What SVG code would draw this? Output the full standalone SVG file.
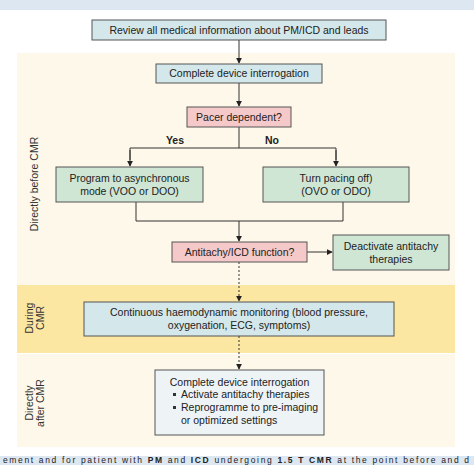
<svg xmlns="http://www.w3.org/2000/svg" width="474" height="465" viewBox="0 0 474 465">
<defs>
<style>
.t{font-family:"Liberation Sans",Arial,sans-serif;font-size:10.5px;fill:#222;text-anchor:middle}
.lab{font-family:"Liberation Sans",Arial,sans-serif;font-size:10.5px;fill:#333;text-anchor:middle}
.yn{font-family:"Liberation Sans",Arial,sans-serif;font-size:10.5px;font-weight:bold;fill:#222;text-anchor:middle}
.b{stroke:#555;stroke-width:1}
.teal{fill:#d4e7ea}
.pink{fill:#f5c9c9}
.green{fill:#cfe6d5}
.pale{fill:#eef3f6}
.ln{fill:none;stroke:#333;stroke-width:1}
.dash{fill:none;stroke:#333;stroke-width:1;stroke-dasharray:2,2}
</style>
<marker id="ah" viewBox="0 0 8 8" refX="7" refY="4" markerWidth="6" markerHeight="6" orient="auto" markerUnits="userSpaceOnUse">
<path d="M0,0 L8,4 L0,8 z" fill="#222"/>
</marker>
</defs>
<rect width="474" height="465" fill="#ffffff"/>
<rect x="0" y="0" width="474" height="10" fill="#dde7f1"/>
<g id="phase-before">
<rect x="17" y="53" width="438" height="232" fill="#fdf8e9"/>
<text class="lab" transform="translate(38,184) rotate(-90)">Directly before CMR</text>
</g>
<g id="phase-during">
<rect x="17" y="285" width="438" height="68" fill="#fbe6a2"/>
<text class="lab" transform="translate(33,318) rotate(-90)">During</text>
<text class="lab" transform="translate(44,318) rotate(-90)">CMR</text>
</g>
<g id="phase-after">
<rect x="17" y="354" width="438" height="93" fill="#fdf8e9"/>
<text class="lab" transform="translate(33,403) rotate(-90)">Directly</text>
<text class="lab" transform="translate(44,403) rotate(-90)">after CMR</text>
</g>
<g id="connectors">
<line class="ln" x1="239" y1="40" x2="239" y2="63" marker-end="url(#ah)"/>
<line class="ln" x1="239" y1="83" x2="239" y2="106" marker-end="url(#ah)"/>
<polyline class="ln" points="239,127 239,148"/>
<polyline class="ln" points="130,160 130,148 336,148 336,160"/>
<line class="ln" x1="130" y1="150" x2="130" y2="166" marker-end="url(#ah)"/>
<line class="ln" x1="336" y1="150" x2="336" y2="166" marker-end="url(#ah)"/>
<polyline class="ln" points="136,202 136,221 343,221 343,202"/>
<line class="ln" x1="239" y1="221" x2="239" y2="241" marker-end="url(#ah)"/>
<line class="ln" x1="307" y1="252" x2="332" y2="252" marker-end="url(#ah)"/>
<line class="dash" x1="239" y1="262" x2="239" y2="301" marker-end="url(#ah)"/>
<line class="dash" x1="239" y1="336" x2="239" y2="369" marker-end="url(#ah)"/>
<text class="yn" x="175" y="144">Yes</text>
<text class="yn" x="272" y="144">No</text>
</g>
<g id="review">
<rect class="teal b" x="92" y="20" width="294" height="20"/>
<text class="t" x="239" y="33.5">Review all medical information about PM/ICD and leads</text>
</g>
<g id="interrogation">
<rect class="teal b" x="156" y="64" width="166" height="19"/>
<text class="t" x="239" y="77">Complete device interrogation</text>
</g>
<g id="pacer">
<rect class="pink b" x="187" y="107" width="104" height="20"/>
<text class="t" x="239" y="120.5">Pacer dependent?</text>
</g>
<g id="async">
<rect class="green b" x="56" y="167" width="147" height="35"/>
<text class="t" x="129.5" y="182">Program to asynchronous</text>
<text class="t" x="129.5" y="195">mode (VOO or DOO)</text>
</g>
<g id="pacing-off">
<rect class="green b" x="263" y="167" width="146" height="35"/>
<text class="t" x="336" y="182">Turn pacing off)</text>
<text class="t" x="336" y="195">(OVO or ODO)</text>
</g>
<g id="antitachy">
<rect class="pink b" x="172" y="242" width="135" height="20"/>
<text class="t" x="239.5" y="255.5">Antitachy/ICD function?</text>
</g>
<g id="deactivate">
<rect class="green b" x="333" y="235" width="116" height="35"/>
<text class="t" x="391" y="249.5">Deactivate antitachy</text>
<text class="t" x="391" y="262.5">therapies</text>
</g>
<g id="monitoring">
<rect class="teal b" x="84" y="302" width="310" height="34"/>
<text class="t" x="239" y="316">Continuous haemodynamic monitoring (blood pressure,</text>
<text class="t" x="239" y="329">oxygenation, ECG, symptoms)</text>
</g>
<g id="after">
<rect class="pale b" x="155" y="370" width="169" height="65"/>
<text class="t" x="239.5" y="386">Complete device interrogation</text>
<rect x="173" y="393" width="3" height="3" fill="#333"/>
<text class="t" x="181" y="398" style="text-anchor:start">Activate antitachy therapies</text>
<rect x="173" y="406" width="3" height="3" fill="#333"/>
<text class="t" x="181" y="411" style="text-anchor:start">Reprogramme to pre-imaging</text>
<text class="t" x="181" y="424" style="text-anchor:start">or optimized settings</text>
</g>
<g id="caption">
<rect x="0" y="456" width="474" height="9" fill="#dde7f1"/>
<text x="3" y="463" textLength="466" lengthAdjust="spacing" style="font-family:'Liberation Sans',Arial,sans-serif;font-size:8.5px;fill:#222">ement and for patient with <tspan font-weight="bold">PM</tspan> and <tspan font-weight="bold">ICD</tspan> undergoing <tspan font-weight="bold">1.5 T CMR</tspan> at the point before and d</text>
</g>
</svg>
